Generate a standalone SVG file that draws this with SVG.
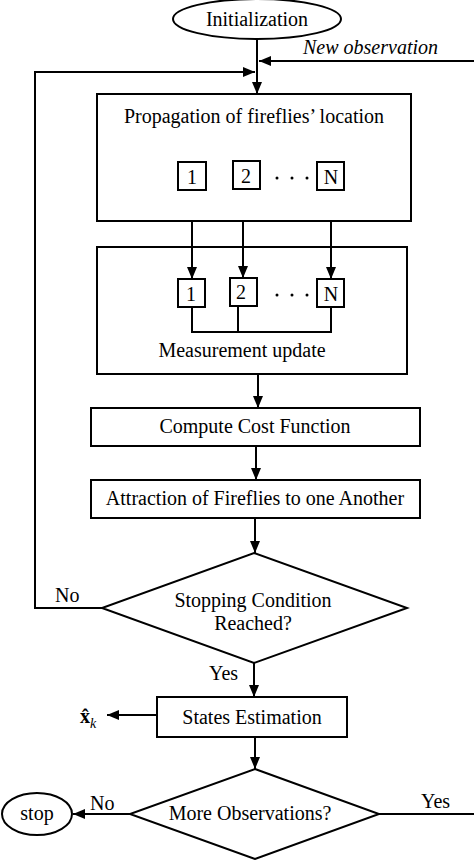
<svg xmlns="http://www.w3.org/2000/svg" width="474" height="860" viewBox="0 0 474 860">
<style>
text{font-family:"Liberation Serif","Times New Roman",serif;font-size:20px;fill:#000}
.c{text-anchor:middle}
.s{fill:#fff;stroke:#000;stroke-width:2}
.ln{fill:none;stroke:#000;stroke-width:2}
</style>
<defs>
<marker id="ah" viewBox="0 0 12 10" refX="12" refY="5" markerWidth="12" markerHeight="10" orient="auto" markerUnits="userSpaceOnUse"><path d="M0,0 L12,5 L0,10 z" fill="#000"/></marker>
</defs>
<rect width="474" height="860" fill="#fff"/>
<g id="connectors" class="ln">
<path d="M257,39 V94" marker-end="url(#ah)"/>
<path d="M474,61 H259" marker-end="url(#ah)"/>
<path d="M102,608 H35 V72 H255" marker-end="url(#ah)"/>
<path d="M192,190 V279" marker-end="url(#ah)"/>
<path d="M243,189 V278" marker-end="url(#ah)"/>
<path d="M331,190 V279" marker-end="url(#ah)"/>
<path d="M192,307 V332 H331 V307 M238,306 V332"/>
<path d="M258,374 V408" marker-end="url(#ah)"/>
<path d="M256,446 V480" marker-end="url(#ah)"/>
<path d="M255,518 V553" marker-end="url(#ah)"/>
<path d="M254,663 V697" marker-end="url(#ah)"/>
<path d="M157,715 H107" marker-end="url(#ah)"/>
<path d="M255,737 V769" marker-end="url(#ah)"/>
<path d="M130,814 H73" marker-end="url(#ah)"/>
<path d="M379,814 H474"/>
</g>
<g id="init"><ellipse class="s" cx="257" cy="19" rx="84" ry="20"/><text class="c" x="257" y="26">Initialization</text></g>
<text id="newobs" x="303" y="54" font-style="italic">New observation</text>
<g id="propagation">
<rect class="s" x="97" y="94" width="314" height="127"/>
<text class="c" x="254" y="123">Propagation of fireflies’ location</text>
<rect class="s" x="178" y="162" width="28" height="28"/><text class="c" x="192" y="184">1</text>
<rect class="s" x="233" y="161" width="27" height="28"/><text class="c" x="246" y="183">2</text>
<rect class="s" x="317" y="162" width="27" height="28"/><text class="c" x="331" y="184">N</text>
<g fill="#000"><circle cx="277" cy="178" r="1.5"/><circle cx="292" cy="178" r="1.5"/><circle cx="307" cy="178" r="1.5"/></g>
</g>
<g id="measurement">
<rect class="ln" x="97" y="247" width="310" height="127"/>
<rect class="s" x="178" y="279" width="27" height="28"/><text class="c" x="191" y="301">1</text>
<rect class="s" x="230" y="278" width="27" height="28"/><text class="c" x="241" y="299">2</text>
<rect class="s" x="317" y="279" width="27" height="28"/><text class="c" x="331" y="301">N</text>
<g fill="#000"><circle cx="277" cy="295" r="1.5"/><circle cx="292" cy="295" r="1.5"/><circle cx="307" cy="295" r="1.5"/></g>
<text class="c" x="242" y="357">Measurement update</text>
</g>
<g id="compute"><rect class="s" x="91" y="408" width="329" height="38"/><text class="c" x="255" y="433">Compute Cost Function</text></g>
<g id="attraction"><rect class="s" x="91" y="480" width="329" height="38"/><text class="c" x="255" y="505">Attraction of Fireflies to one Another</text></g>
<g id="stopping">
<path class="s" d="M254,553 L407,608 L254,663 L102,608 Z"/>
<text class="c" x="253" y="607">Stopping Condition</text>
<text class="c" x="253" y="630">Reached?</text>
</g>
<text x="55" y="602">No</text>
<text x="209" y="680">Yes</text>
<g id="states"><rect class="s" x="157" y="697" width="190" height="40"/><text class="c" x="252" y="724">States Estimation</text></g>
<text id="xhat" x="80" y="723" font-weight="bold">x̂<tspan font-size="14" font-style="italic" font-weight="normal" dy="5">k</tspan></text>
<g id="more">
<path class="s" d="M255,769 L379,814 L255,859 L130,814 Z"/>
<text class="c" x="250" y="820">More Observations?</text>
</g>
<g id="stop"><ellipse class="s" cx="37" cy="814" rx="35" ry="21"/><text class="c" x="37" y="820">stop</text></g>
<text x="90" y="810">No</text>
<text x="421" y="808">Yes</text>
</svg>
